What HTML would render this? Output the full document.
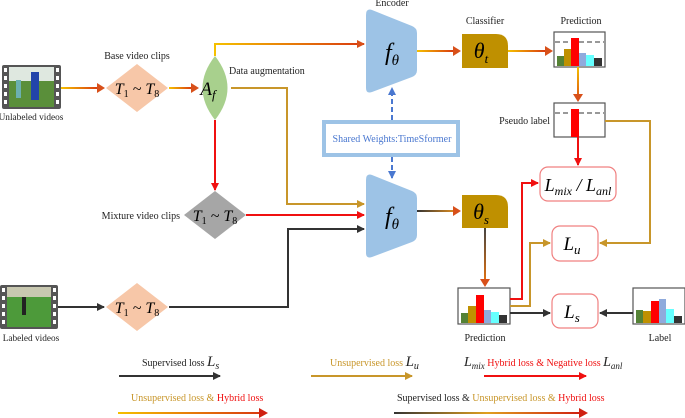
<!DOCTYPE html>
<html><head><meta charset="utf-8"><style>
body{margin:0;background:#fff}
svg{display:block}
text{font-family:"Liberation Serif",serif}
.s{font-size:10px;fill:#222}
.m{font-style:italic;font-family:"Liberation Serif",serif}
</style></head><body>
<svg width="685" height="418" viewBox="0 0 685 418">
<defs>
<linearGradient id="yr" x1="0" x2="1"><stop offset="0" stop-color="#f5c000"/><stop offset="1" stop-color="#d93a10"/></linearGradient>
<linearGradient id="kyr" x1="0" x2="1"><stop offset="0" stop-color="#333"/><stop offset="0.5" stop-color="#e0a020"/><stop offset="1" stop-color="#d02010"/></linearGradient>
<linearGradient id="ko" x1="0" x2="1"><stop offset="0" stop-color="#333"/><stop offset="1" stop-color="#d98a20"/></linearGradient>
<linearGradient id="vy" x1="0" x2="0" y1="0" y2="1"><stop offset="0" stop-color="#f5c000"/><stop offset="1" stop-color="#e06010"/></linearGradient>
<linearGradient id="vk" x1="0" x2="0" y1="0" y2="1"><stop offset="0" stop-color="#444"/><stop offset="1" stop-color="#e07010"/></linearGradient>
<marker id="ar" markerWidth="8" markerHeight="8" refX="7" refY="4" orient="auto" markerUnits="userSpaceOnUse"><path d="M0,0 L8,4 L0,8 z" fill="#d8501a"/></marker>
<marker id="arr" markerWidth="8" markerHeight="8" refX="7" refY="4" orient="auto" markerUnits="userSpaceOnUse"><path d="M0,0 L8,4 L0,8 z" fill="#f01010"/></marker>
<marker id="ark" markerWidth="8" markerHeight="8" refX="7" refY="4" orient="auto" markerUnits="userSpaceOnUse"><path d="M0,0 L8,4 L0,8 z" fill="#333"/></marker>
<marker id="arg" markerWidth="8" markerHeight="8" refX="7" refY="4" orient="auto" markerUnits="userSpaceOnUse"><path d="M0,0 L8,4 L0,8 z" fill="#c8962a"/></marker>
<marker id="arb" markerWidth="8" markerHeight="8" refX="7" refY="4" orient="auto" markerUnits="userSpaceOnUse"><path d="M0,0 L8,4 L0,8 z" fill="#4a78d0"/></marker>
</defs>

<!-- video icons -->
<rect x="2" y="65" width="59" height="44" fill="#555" rx="2"/>
<rect x="9" y="67" width="45" height="40" fill="#5a8f3a"/>
<rect x="9" y="67" width="45" height="14" fill="#dfe8e0"/>
<rect x="31" y="72" width="8" height="28" fill="#2244aa"/>
<rect x="16" y="80" width="5" height="18" fill="#6cb0b0"/>
<g fill="#fff"><rect x="4" y="68" width="3" height="4"/><rect x="4" y="76" width="3" height="4"/><rect x="4" y="84" width="3" height="4"/><rect x="4" y="92" width="3" height="4"/><rect x="4" y="100" width="3" height="4"/><rect x="56" y="68" width="3" height="4"/><rect x="56" y="76" width="3" height="4"/><rect x="56" y="84" width="3" height="4"/><rect x="56" y="92" width="3" height="4"/><rect x="56" y="100" width="3" height="4"/></g>
<text x="31" y="120" font-size="9.3" fill="#222" text-anchor="middle">Unlabeled videos</text>

<rect x="0" y="285" width="58" height="44" fill="#555" rx="2"/>
<rect x="7" y="287" width="44" height="40" fill="#4d9a3a"/>
<rect x="7" y="287" width="44" height="10" fill="#c8c8b0"/>
<rect x="22" y="297" width="4" height="18" fill="#222"/>
<g fill="#fff"><rect x="2" y="288" width="3" height="4"/><rect x="2" y="296" width="3" height="4"/><rect x="2" y="304" width="3" height="4"/><rect x="2" y="312" width="3" height="4"/><rect x="2" y="320" width="3" height="4"/><rect x="53" y="288" width="3" height="4"/><rect x="53" y="296" width="3" height="4"/><rect x="53" y="304" width="3" height="4"/><rect x="53" y="312" width="3" height="4"/><rect x="53" y="320" width="3" height="4"/></g>
<text x="31" y="341" font-size="9.3" fill="#222" text-anchor="middle">Labeled videos</text>

<!-- diamonds -->
<polygon points="106,88 137,64 168,88 137,112" fill="#f7c7a8"/>
<text x="137" y="94" class="m" font-size="16" text-anchor="middle">T<tspan font-size="10" font-style="normal" dy="3">1</tspan><tspan dy="-3"> ~ T</tspan><tspan font-size="10" font-style="normal" dy="3">8</tspan></text>
<text x="137" y="59" class="s" text-anchor="middle">Base video clips</text>
<polygon points="106,307 137,283 168,307 137,331" fill="#f7c7a8"/>
<text x="137" y="313" class="m" font-size="16" text-anchor="middle">T<tspan font-size="10" font-style="normal" dy="3">1</tspan><tspan dy="-3"> ~ T</tspan><tspan font-size="10" font-style="normal" dy="3">8</tspan></text>
<polygon points="184,215 215,191 246,215 215,239" fill="#a6a6a6"/>
<text x="215" y="221" class="m" font-size="16" text-anchor="middle">T<tspan font-size="10" font-style="normal" dy="3">1</tspan><tspan dy="-3"> ~ T</tspan><tspan font-size="10" font-style="normal" dy="3">8</tspan></text>
<text x="180" y="219" class="s" text-anchor="end">Mixture video clips</text>

<!-- lens -->
<path d="M215,56 Q240,88 215,120 Q190,88 215,56 z" fill="#a8d08d"/>
<text x="208" y="95" class="m" font-size="19" text-anchor="middle">A<tspan font-size="13" dy="4">f</tspan></text>
<text x="229" y="74" class="s">Data augmentation</text>

<!-- gradient arrows as rects -->
<rect x="61" y="87" width="37" height="2" fill="url(#yr)"/><polygon points="97,83 105,88 97,93" fill="#d8501a"/>
<rect x="169" y="87" width="23" height="2" fill="url(#yr)"/><polygon points="191,83 199,88 191,93" fill="#d8501a"/>
<path d="M215,56 V44 H364" fill="none" stroke="url(#yr)" stroke-width="2" marker-end="url(#ar)"/>
<path d="M231,88 H287 V204 H364" fill="none" stroke="#c8962a" stroke-width="2" marker-end="url(#arg)"/>
<line x1="215" y1="120" x2="215" y2="190" stroke="#f01010" stroke-width="2" marker-end="url(#arr)"/>
<line x1="246" y1="215" x2="364" y2="215" stroke="#f01010" stroke-width="2" marker-end="url(#arr)"/>
<line x1="58" y1="307" x2="104" y2="307" stroke="#333" stroke-width="2" marker-end="url(#ark)"/>
<path d="M169,307 H288 V229 H364" fill="none" stroke="#333" stroke-width="2" marker-end="url(#ark)"/>

<!-- encoders -->
<path d="M372,10 L412,26 Q417,28 417,33 L417,70 Q417,75 412,77 L372,92 Q366,94 366,88 L366,15 Q366,8 372,10 z" fill="#9dc3e6"/>
<text x="392" y="60" class="m" font-size="24" text-anchor="middle">f<tspan font-size="15" dy="5">θ</tspan></text>
<text x="392" y="6" class="s" text-anchor="middle">Encoder</text>
<path d="M372,175 L412,191 Q417,193 417,198 L417,235 Q417,240 412,242 L372,257 Q366,259 366,253 L366,180 Q366,173 372,175 z" fill="#9dc3e6"/>
<text x="392" y="224" class="m" font-size="24" text-anchor="middle">f<tspan font-size="15" dy="5">θ</tspan></text>

<!-- shared weights -->
<rect x="324" y="122" width="134" height="33" fill="#fff" stroke="#9dc3e6" stroke-width="4"/>
<text x="392" y="142" font-size="10" fill="#4a78d0" text-anchor="middle">Shared Weights:TimeSformer</text>
<line x1="392" y1="120" x2="392" y2="88" stroke="#4a78d0" stroke-width="2" stroke-dasharray="5,3" marker-end="url(#arb)"/>
<line x1="392" y1="157" x2="392" y2="178" stroke="#4a78d0" stroke-width="2" stroke-dasharray="5,3" marker-end="url(#arb)"/>

<!-- classifiers -->
<path d="M462,34 H496 Q508,34 508,46 V68 H462 z" fill="#bf9000"/>
<text x="481" y="58" class="m" font-size="22" text-anchor="middle">θ<tspan font-size="13" dy="5">t</tspan></text>
<text x="485" y="24" class="s" text-anchor="middle">Classifier</text>
<path d="M462,195 H496 Q508,195 508,207 V228 H462 z" fill="#bf9000"/>
<text x="481" y="219" class="m" font-size="22" text-anchor="middle">θ<tspan font-size="13" dy="5">s</tspan></text>
<rect x="417" y="50" width="37" height="2" fill="url(#yr)"/><polygon points="453,46 461,51 453,56" fill="#d8501a"/>
<rect x="508" y="50" width="38" height="2" fill="url(#yr)"/><polygon points="545,46 553,51 545,56" fill="#d8501a"/>
<rect x="417" y="210" width="37" height="2" fill="url(#ko)"/><polygon points="453,206 461,211 453,216" fill="#d8501a"/>
<rect x="484" y="228" width="2" height="52" fill="url(#vk)"/><polygon points="480,279 485,287 490,279" fill="#d8501a"/>

<!-- prediction top -->
<text x="581" y="24" class="s" text-anchor="middle">Prediction</text>
<rect x="554" y="32" width="51" height="35" fill="#fff" stroke="#555" stroke-width="1.2"/>
<line x1="555" y1="42" x2="604" y2="42" stroke="#333" stroke-dasharray="5,3"/>
<rect x="557" y="56" width="7" height="10" fill="#548235"/><rect x="564" y="49" width="7" height="17" fill="#bf9000"/><rect x="571" y="38" width="8" height="28" fill="#f00"/><rect x="579" y="53" width="7" height="13" fill="#8faadc"/><rect x="586" y="55" width="8" height="11" fill="#66ffff"/><rect x="594" y="58" width="8" height="8" fill="#333"/>
<rect x="577" y="67" width="2" height="28" fill="url(#vy)"/><polygon points="573,94 578,102 583,94" fill="#d8501a"/>

<!-- pseudo label -->
<text x="550" y="124" class="s" text-anchor="end">Pseudo label</text>
<rect x="554" y="103" width="51" height="34" fill="#fff" stroke="#555" stroke-width="1.2"/>
<line x1="555" y1="113" x2="604" y2="113" stroke="#333" stroke-dasharray="5,3"/>
<rect x="571" y="109" width="8" height="28" fill="#f00"/>
<line x1="578" y1="137" x2="578" y2="165" stroke="#f01010" stroke-width="2" marker-end="url(#arr)"/>
<path d="M605,121 H650 V243 H600" fill="none" stroke="#c8962a" stroke-width="2" marker-end="url(#arg)"/>

<!-- loss boxes -->
<rect x="540" y="167" width="76" height="34" rx="8" fill="#fff" stroke="#f08080" stroke-width="1.2"/>
<text x="578" y="191" class="m" font-size="18" text-anchor="middle">L<tspan font-size="12" dy="4">mix</tspan><tspan dy="-4"> / L</tspan><tspan font-size="12" dy="4">anl</tspan></text>
<rect x="552" y="226" width="46" height="35" rx="8" fill="#fff" stroke="#f08080" stroke-width="1.2"/>
<text x="572" y="250" class="m" font-size="19" text-anchor="middle">L<tspan font-size="13" dy="4">u</tspan></text>
<rect x="552" y="294" width="46" height="34" rx="8" fill="#fff" stroke="#f08080" stroke-width="1.2"/>
<text x="572" y="318" class="m" font-size="19" text-anchor="middle">L<tspan font-size="13" dy="4">s</tspan></text>

<!-- prediction bottom -->
<rect x="458" y="288" width="52" height="36" fill="#fff" stroke="#555" stroke-width="1.2"/>
<rect x="461" y="313" width="7" height="10" fill="#548235"/><rect x="468" y="306" width="8" height="17" fill="#bf9000"/><rect x="476" y="295" width="8" height="28" fill="#f00"/><rect x="484" y="310" width="7" height="13" fill="#8faadc"/><rect x="491" y="312" width="8" height="11" fill="#66ffff"/><rect x="499" y="315" width="8" height="8" fill="#333"/>
<text x="485" y="341" class="s" text-anchor="middle">Prediction</text>
<path d="M510,299 H522 V183 H538" fill="none" stroke="#f01010" stroke-width="2" marker-end="url(#arr)"/>
<path d="M510,306 H530 V243 H550" fill="none" stroke="#c8962a" stroke-width="2" marker-end="url(#arg)"/>
<line x1="510" y1="313" x2="550" y2="313" stroke="#333" stroke-width="2" marker-end="url(#ark)"/>

<!-- label -->
<rect x="633" y="288" width="52" height="36" fill="#fff" stroke="#555" stroke-width="1.2"/>
<rect x="636" y="310" width="7" height="13" fill="#548235"/><rect x="643" y="311" width="8" height="12" fill="#bf9000"/><rect x="651" y="301" width="8" height="22" fill="#f00"/><rect x="659" y="299" width="7" height="24" fill="#8faadc"/><rect x="666" y="309" width="8" height="14" fill="#66ffff"/><rect x="674" y="316" width="8" height="7" fill="#333"/>
<text x="660" y="341" class="s" text-anchor="middle">Label</text>
<line x1="633" y1="313" x2="600" y2="313" stroke="#333" stroke-width="2" marker-end="url(#ark)"/>

<!-- legend -->
<text x="142" y="366" class="s">Supervised loss <tspan class="m" font-size="15">L<tspan font-size="10" dy="3">s</tspan></tspan></text>
<line x1="119" y1="376" x2="220" y2="376" stroke="#333" stroke-width="2" marker-end="url(#ark)"/>
<text x="131" y="401" class="s"><tspan fill="#c8962a">Unsupervised loss &amp; </tspan><tspan fill="#f01010">Hybrid loss</tspan></text>
<rect x="118" y="412" width="142" height="2" fill="url(#yr)"/><polygon points="259,408 268,413 259,418" fill="#d02010"/>
<text x="330" y="366" class="s"><tspan fill="#c8962a">Unsupervised loss </tspan><tspan class="m" font-size="15" fill="#222">L<tspan font-size="10" dy="3">u</tspan></tspan></text>
<line x1="311" y1="376" x2="412" y2="376" stroke="#c8962a" stroke-width="2" marker-end="url(#arg)"/>
<text x="464" y="366" class="s"><tspan class="m" font-size="14">L<tspan font-size="9" dy="3">mix</tspan></tspan><tspan dy="-3" fill="#f01010"> Hybrid loss  &amp; Negative loss </tspan><tspan class="m" font-size="14">L<tspan font-size="9" dy="3">anl</tspan></tspan></text>
<line x1="484" y1="376" x2="586" y2="376" stroke="#f01010" stroke-width="2" marker-end="url(#arr)"/>
<text x="397" y="401" class="s">Supervised loss &amp; <tspan fill="#c8962a">Unsupervised loss &amp; </tspan><tspan fill="#f01010">Hybrid loss</tspan></text>
<rect x="394" y="412" width="186" height="2" fill="url(#kyr)"/><polygon points="579,408 588,413 579,418" fill="#d02010"/>
</svg>
</body></html>
